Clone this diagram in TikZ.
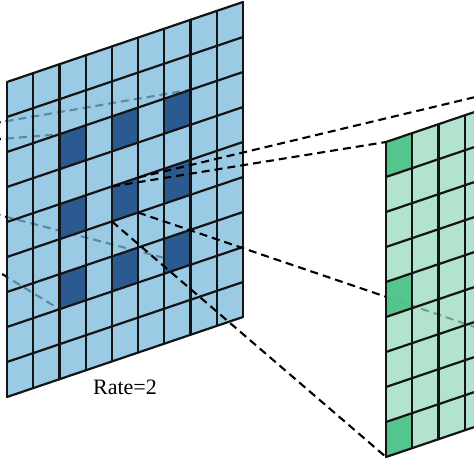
\documentclass[tikz,border=0pt]{standalone}
\usepackage{fontspec}
\setmainfont{Liberation Serif}
\begin{document}
\begin{tikzpicture}[x=1pt,y=-1pt,
  gridline/.style={draw=black!92, line width=2.2pt, line cap=round, line join=round},
  conn/.style={draw=black, line width=2.1pt, dash pattern=on 8pt off 5pt},
  lightblue/.style={fill={rgb,255:red,122;green,184;blue,220}, fill opacity=0.75},
  darkblue/.style={fill={rgb,255:red,42;green,90;blue,144}},
  lightgreen/.style={fill={rgb,255:red,152;green,217;blue,191}, fill opacity=0.75},
  darkgreen/.style={fill={rgb,255:red,76;green,196;blue,132}, fill opacity=0.9},
  lbl/.style={font=\fontsize{22}{26}\selectfont, inner sep=0pt, anchor=base}]
\useasboundingbox (0,0) rectangle (474,474);
\clip (0,0) rectangle (474,474);

% lines coming from the left (behind the blue plane)
\coordinate (la) at (-20,125.6);
\coordinate (lb) at (-20,140.7);
\coordinate (lc) at (-20,210);
\coordinate (ld) at (-20,260.4);

% blue plane corner coordinates
\begin{scope}[shift={(7,82)}, x={(26.222pt,8.889pt)}, y={(0pt,-35pt)}]
  \coordinate (bTL) at (2,2);
  \coordinate (bTR) at (7,2);
  \coordinate (bBR) at (7,7);
  \coordinate (bBL) at (2,7);
  \coordinate (cTL) at (4,4);
  \coordinate (cTR) at (5,4);
  \coordinate (cBR) at (5,5);
  \coordinate (cBL) at (4,5);
\end{scope}

\draw[conn] (la) -- (bTR);
\draw[conn] (lb) -- (bTL);
\draw[conn] (lc) -- (bBR);
\draw[conn] (ld) -- (bBL);

% blue plane
\begin{scope}[shift={(7,82)}, x={(26.222pt,8.889pt)}, y={(0pt,-35pt)}]
  \fill[lightblue] (0,0) -- (9,0) -- (9,9) -- (0,9) -- cycle;
  \foreach \i in {2,4,6}
    \foreach \j in {2,4,6}
      \fill[darkblue] (\i,\j) -- ++(1,0) -- ++(0,1) -- ++(-1,0) -- cycle;
  \foreach \k in {0,...,9} {
    \draw[gridline] (\k,0) -- (\k,9);
    \draw[gridline] (0,\k) -- (9,\k);
  }
\end{scope}

% green plane corner coordinates
\begin{scope}[shift={(386,142)}, x={(26.222pt,8.889pt)}, y={(0pt,-35pt)}]
  \coordinate (gTL) at (0,0);
  \coordinate (gTR) at (9,0);
  \coordinate (gBR) at (9,9);
  \coordinate (gBL) at (0,9);
\end{scope}

\draw[conn] (cBR) -- (gBR);

% green plane
\begin{scope}[shift={(386,142)}, x={(26.222pt,8.889pt)}, y={(0pt,-35pt)}]
  \fill[lightgreen] (0,0) -- (9,0) -- (9,9) -- (0,9) -- cycle;
  \foreach \j in {0,4,8}
    \fill[darkgreen] (0,\j) -- ++(1,0) -- ++(0,1) -- ++(-1,0) -- cycle;
  \foreach \k in {0,...,9} {
    \draw[gridline] (\k,0) -- (\k,9);
    \draw[gridline] (0,\k) -- (9,\k);
  }
\end{scope}

\draw[conn] (cTR) -- (gTR);
\draw[conn] (cTL) -- (gTL);
\draw[conn] (cBL) -- (gBL);

\node[lbl] (rate) at (125,394) {Rate=2};
\end{tikzpicture}
\end{document}
